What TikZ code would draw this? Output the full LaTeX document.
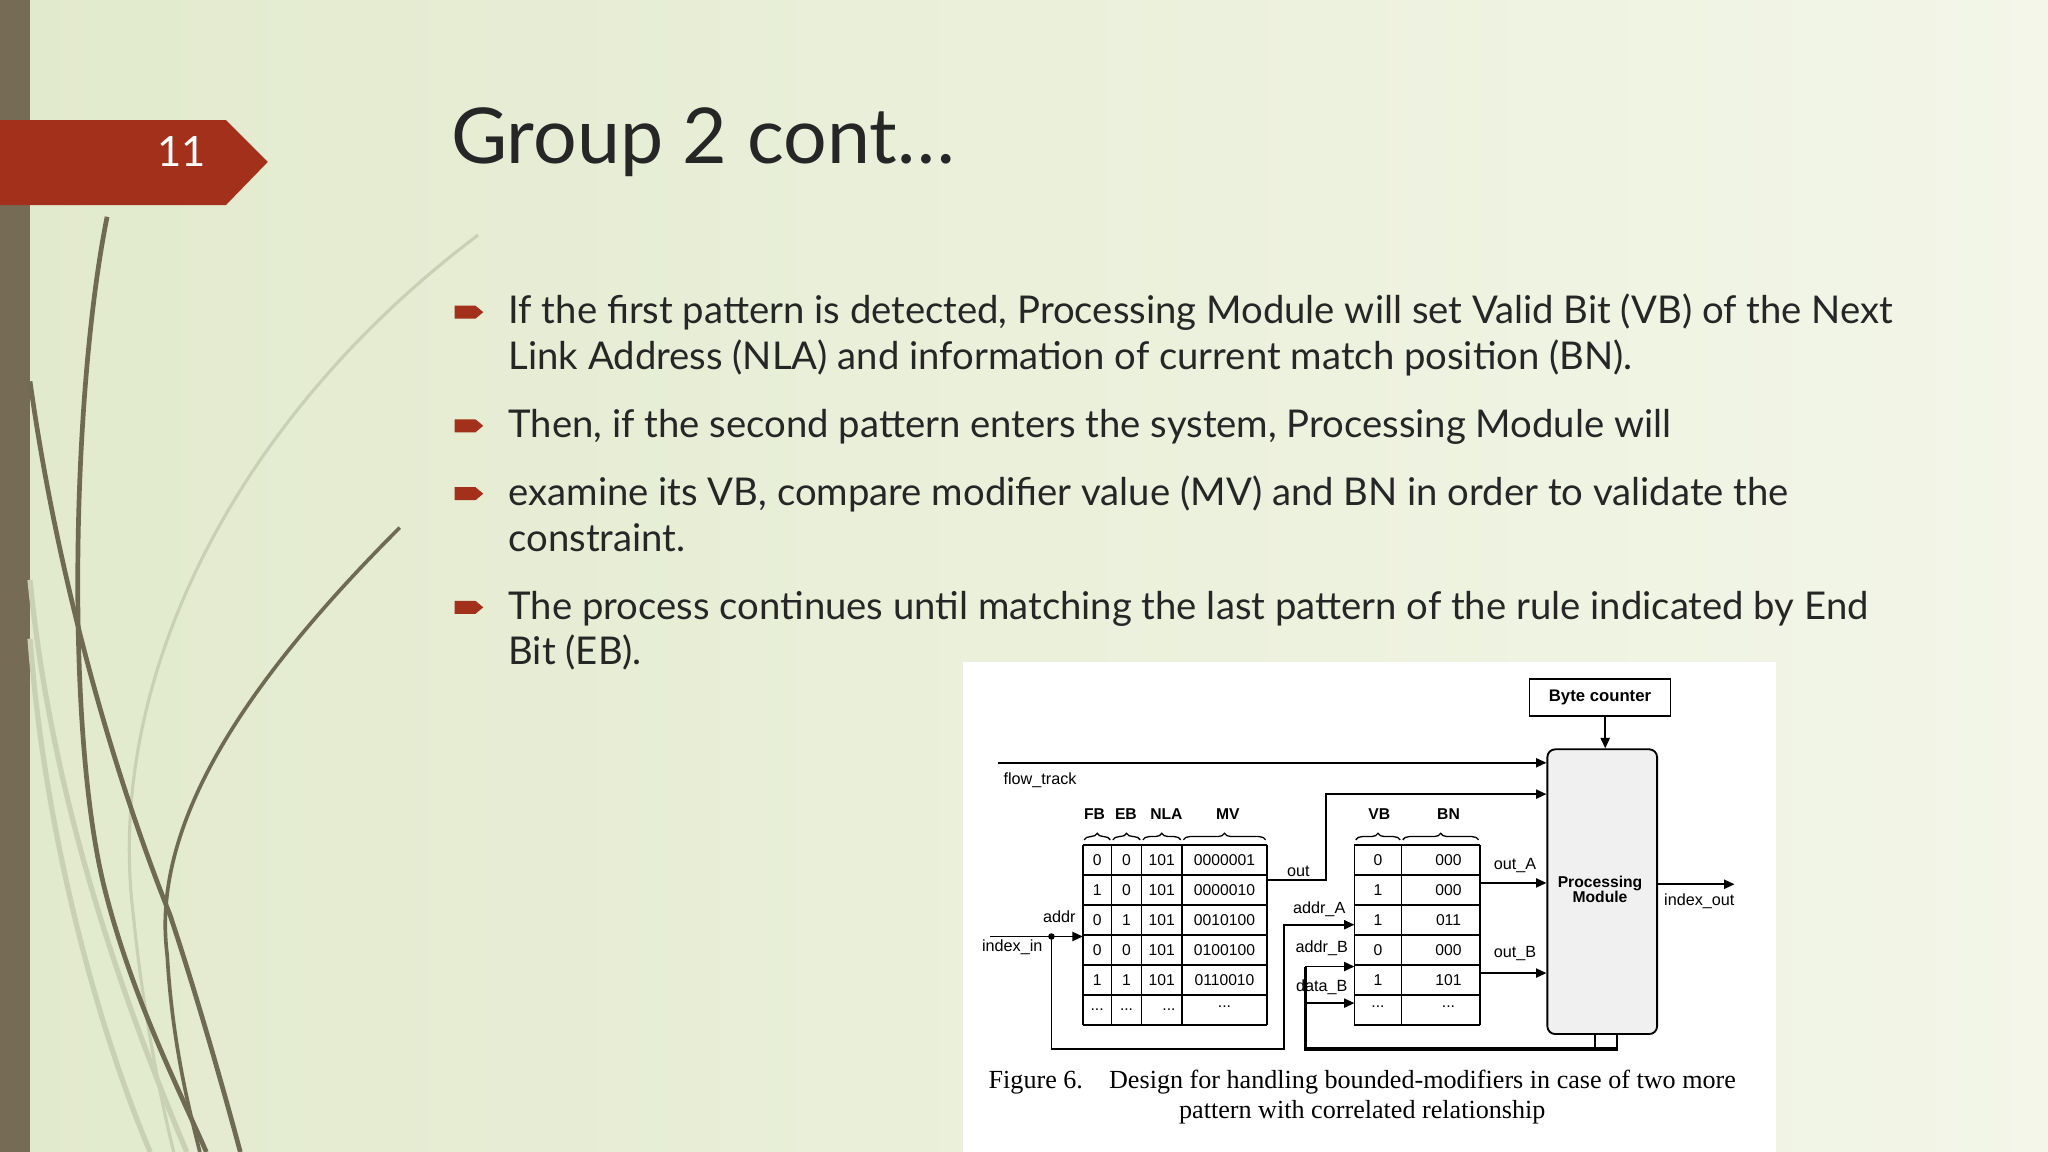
\documentclass[tikz,border=0pt]{standalone}
\usepackage{fontspec}
\setmainfont{Lato}
\newfontfamily\diag{Liberation Sans}
\newfontfamily\capf{Liberation Serif}
\usetikzlibrary{decorations.pathreplacing,arrows.meta}
\definecolor{bgA}{HTML}{E2EACD}
\definecolor{bgB}{HTML}{F3F6E8}
\definecolor{strip}{HTML}{766C55}
\definecolor{tab}{HTML}{A3301A}
\definecolor{leaf}{HTML}{6F6A52}
\definecolor{leafl}{HTML}{C9D0B4}
\tikzset{
  wire/.style={line width=0.7pt},
  arr/.style={wire,-{Triangle[length=4pt,width=3.5pt]}},
  dlab/.style={font=\diag\fontsize{6.2}{7}\selectfont,inner sep=0.5pt},
  hdr/.style={font=\diag\bfseries\fontsize{6}{7}\selectfont,inner sep=0.5pt},
  cell/.style={font=\diag\fontsize{6}{7}\selectfont,inner sep=0pt},
  btxt/.style={anchor=base west,font=\fontsize{14.65}{17}\selectfont,inner sep=0pt,text=black!85},
  brc/.style={decorate,decoration={brace,amplitude=2.5pt},line width=0.5pt},
  bul/.style={fill=tab,draw=none}
}
\begin{document}
\begin{tikzpicture}[x=0.5pt,y=-0.5pt]
\useasboundingbox (0,0) rectangle (1568,882);
% background
\shade[left color=bgA,right color=bgB] (0,0) rectangle (1568,882);
\fill[strip] (0,0) rectangle (23,882);
% decorative curves
\draw[leafl,line width=2pt] (23,444) .. controls (40,620) and (100,780) .. (143,882);
\draw[leafl,line width=2pt] (23,489) .. controls (35,650) and (80,800) .. (115,882);
\draw[leafl,line width=1.2pt] (366,180) .. controls (180,320) and (80,520) .. (102,700) .. controls (110,780) and (125,850) .. (133,882);
\draw[leaf,line width=1.8pt] (82,166) .. controls (55,300) and (50,560) .. (80,680) .. controls (100,760) and (135,830) .. (158,882);
\draw[leaf,line width=1.8pt] (23,292) .. controls (45,450) and (90,600) .. (130,700) .. controls (150,760) and (170,830) .. (184,882);
\draw[leaf,line width=1.4pt] (306,404) .. controls (190,520) and (115,630) .. (128,731) .. controls (132,800) and (145,850) .. (153,882);
% number tab
\fill[tab] (0,92) -- (173,92) -- (205,124) -- (173,157) -- (0,157) -- cycle;
\node[text=white,font=\fontsize{16}{18}\selectfont] (num) at (139,116) {11};
% title
\node[anchor=base west,inner sep=0pt,font=\fontsize{29.5}{34}\selectfont,text=black!85] (title) at (345,125) {Group 2 cont…};
% bullets
\foreach \y [count=\i] in {239,326,378,465}{
  \fill[bul] (348,\y-5) -- (364,\y-5) -- (370,\y) -- (364,\y+5) -- (348,\y+5) -- cycle;
}
\node[btxt] (b1a) at (389,248) {If the first pattern is detected, Processing Module will set Valid Bit (VB) of the Next};
\node[btxt] (b1b) at (389,283) {Link Address (NLA) and information of current match position (BN).};
\node[btxt] (b2) at (389,335) {Then, if the second pattern enters the system, Processing Module will};
\node[btxt] (b3a) at (389,387) {examine its VB, compare modifier value (MV) and BN in order to validate the};
\node[btxt] (b3b) at (389,422) {constraint.};
\node[btxt] (b4a) at (389,474) {The process continues until matching the last pattern of the rule indicated by End};
\node[btxt] (b4b) at (389,509) {Bit (EB).};
% figure
\fill[white] (737,507) rectangle (1360,882);
% processing module and byte counter
\node[draw,wire,rounded corners=3pt,fill=black!6,minimum width=42pt,minimum height=109pt,anchor=north west,inner sep=0pt] (pm) at (1184,573) {};
\node[hdr,align=center] (pmt) at (1225,681) {Processing\\[-1pt]Module};
\node[draw,wire,minimum width=54pt,minimum height=14pt,inner sep=0pt,font=\diag\bfseries\fontsize{6.4}{7}\selectfont] (bc) at (1225,534) {Byte counter};
\draw[arr] (bc.south -| 1229,0) -- (1229,573);
% table 1
\foreach \x in {829,851,874,905,970} \draw[wire] (\x,647) -- (\x,785);
\foreach \y in {647,670,693,716,739,762,785} \draw[wire] (829,\y) -- (970,\y);
\foreach \fb/\eb/\mv [count=\r] in {0/0/0000001,1/0/0000010,0/1/0010100,0/0/0100100,1/1/0110010}{
  \node[cell] at (840,647+23*\r-11.5) {\fb};
  \node[cell] at (862.5,647+23*\r-11.5) {\eb};
  \node[cell] at (889.5,647+23*\r-11.5) {101};
  \node[cell] at (937.5,647+23*\r-11.5) {\mv};
}
\node[cell] at (840,773) {...};
\node[cell] at (862.5,773) {...};
\node[cell] at (895,773) {...};
\node[cell] at (937.5,771) {...};
\node[hdr] (hfb) at (838,623) {FB};
\node[hdr] (heb) at (862,623) {EB};
\node[hdr] (hnla) at (893,623) {NLA};
\node[hdr] (hmv) at (940,623) {MV};
\draw[brc] (830,643) -- (850,643);
\draw[brc] (852,643) -- (873,643);
\draw[brc] (875,643) -- (904,643);
\draw[brc] (906,643) -- (969,643);
% table 2
\foreach \x in {1037,1073,1133} \draw[wire] (\x,647) -- (\x,785);
\foreach \y in {647,670,693,716,739,762,785} \draw[wire] (1037,\y) -- (1133,\y);
\foreach \vb/\bn [count=\r] in {0/000,1/000,1/011,0/000,1/101}{
  \node[cell] at (1055,647+23*\r-11.5) {\vb};
  \node[cell] at (1109,647+23*\r-11.5) {\bn};
}
\node[cell] at (1055,771) {...};
\node[cell] at (1109,771) {...};
\node[hdr] (hvb) at (1056,623) {VB};
\node[hdr] (hbn) at (1109,623) {BN};
\draw[brc] (1038,643) -- (1072,643);
\draw[brc] (1074,643) -- (1132,643);
% connectors
\coordinate (ftA) at (764,584);
\draw[arr] (ftA) -- (ftA -| pm.west);
\node[dlab,anchor=west] (ft) at (767,597) {flow\_track};
\coordinate (o1) at (970,674);
\draw[arr] (o1) -- (1015,674) -- (1015,608) -- (1184,608);
\node[dlab] (out) at (994,667) {out};
\coordinate (iin) at (758,717);
\coordinate (dot) at (805,717);
\draw[arr] (iin) -- (829,717);
\fill (dot) circle (2.5);
\node[dlab] (addr) at (811,702) {addr};
\node[dlab] (idxin) at (775,725) {index\_in};
\draw[arr] (dot) -- (805,803) -- (983,803) -- (983,708) -- (1037,708);
\node[dlab] (la) at (1010,696) {addr\_A};
\node[dlab] (lb) at (1012,726) {addr\_B};
\node[dlab] (ld) at (1012,756) {data\_B};
\draw[arr] (999.5,740) -- (1037,740);
\draw[arr] (999.5,768) -- (1037,768);
\draw[line width=1.3pt] (999.5,740) -- (999.5,803) -- (1239,803);
\draw[wire] (1221,791) -- (1221,803);
\draw[wire] (1238,791) -- (1238,803);
\draw[arr] (1133,676) -- (1184,676);
\node[dlab] (oa) at (1160,663) {out\_A};
\draw[arr] (1133,745) -- (1184,745);
\node[dlab] (ob) at (1160,730) {out\_B};
\draw[arr] (pm.east |- 0,677) -- (1328,677);
\node[dlab] (io) at (1301,690) {index\_out};
% caption
\node[font=\capf\fontsize{10}{11.5}\selectfont,align=center] (cap) at (1043,840) {Figure 6.\quad Design for handling bounded-modifiers in case of two more\\pattern with correlated relationship};
\end{tikzpicture}
\end{document}
